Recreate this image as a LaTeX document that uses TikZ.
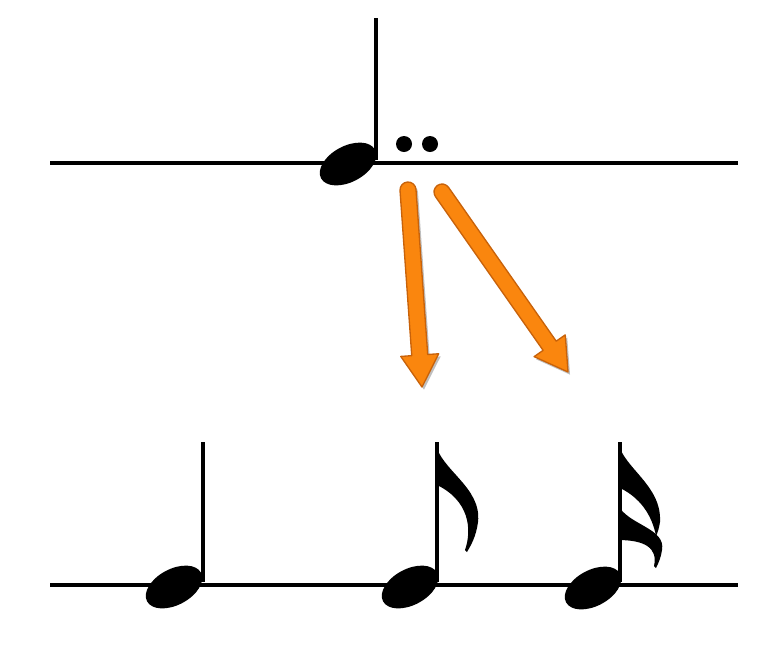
\documentclass[tikz,border=0pt]{standalone}
\usetikzlibrary{shapes.geometric,shadows}
\definecolor{arrfill}{RGB}{250,134,14}
\definecolor{arrline}{RGB}{200,98,10}
\newcommand{\orangearrow}[3]{%
  \begin{scope}[shift={(#1)}, rotate=#2]
    \path[fatarrow] (0,-8) -- ({#3-32},-8) -- ({#3-32},-19) -- (#3,0)
      -- ({#3-32},19) -- ({#3-32},8) -- (0,8)
      arc[start angle=90,end angle=270,radius=8] -- cycle;
  \end{scope}}
\begin{document}
\begin{tikzpicture}[x=0.03cm,y=-0.03cm,
  staff/.style={line width=0.12cm},
  stemline/.style={line width=0.12cm},
  notehead/.style={ellipse, fill=black, inner sep=0pt, minimum width=1.83cm,
    minimum height=1.08cm, rotate=28},
  dotnote/.style={circle, fill=black, inner sep=0pt, minimum size=0.48cm},
  fatarrow/.style={fill=arrfill, draw=arrline, line width=0.04cm, line join=round,
    drop shadow={shadow xshift=0.06cm, shadow yshift=-0.08cm, opacity=0.25, fill=black}},
  flag/.style={fill=black}]
\useasboundingbox (0,0) rectangle (768,662);
% staff lines
\coordinate (t1) at (50,163); \coordinate (t2) at (738,163);
\coordinate (b1) at (50,585); \coordinate (b2) at (738,585);
\draw[staff] (t1) -- (t2);
\draw[staff] (b1) -- (b2);
% top note
\node[notehead] (h0) at (348,164) {};
\coordinate (s0t) at (376,18); \coordinate (s0b) at (376,160);
\draw[stemline] (s0t) -- (s0b);
\node[dotnote] (d1) at (404,144) {};
\node[dotnote] (d2) at (430,144) {};
% arrows
\coordinate (a1s) at (408,190); \coordinate (a1e) at (422,387);
\coordinate (a2s) at (442,192); \coordinate (a2e) at (568,372);
\orangearrow{a1s}{-85.94}{197.5}
\orangearrow{a2s}{-55.0}{219.7}
% bottom notes
\node[notehead] (h1) at (174,587) {};
\coordinate (s1t) at (203,442); \coordinate (s1b) at (203,582);
\draw[stemline] (s1t) -- (s1b);
\node[notehead] (h2) at (410,587) {};
\coordinate (s2t) at (437,442); \coordinate (s2b) at (437,582);
\draw[stemline] (s2t) -- (s2b);
\fill[flag] (435,442) .. controls (440,470) and (482,487) .. (478,522)
  .. controls (476,537) and (471,545) .. (467,552) -- (465,550)
  .. controls (472,530) and (470,500) .. (435,484) -- cycle;
\node[notehead] (h3) at (593,588) {};
\coordinate (s3t) at (620,442); \coordinate (s3b) at (620,582);
\draw[stemline] (s3t) -- (s3b);
\fill[flag] (618,442) .. controls (623,468) and (662,485) .. (660,522)
  .. controls (659,528) and (658,532) .. (656,536)
  .. controls (652,515) and (640,497) .. (618,487) -- cycle;
\fill[flag] (618,505) .. controls (628,525) and (666,528) .. (662,550)
  .. controls (661,557) and (659,562) .. (656,568) -- (654,566)
  .. controls (658,548) and (645,540) .. (618,540) -- cycle;
\end{tikzpicture}
\end{document}
